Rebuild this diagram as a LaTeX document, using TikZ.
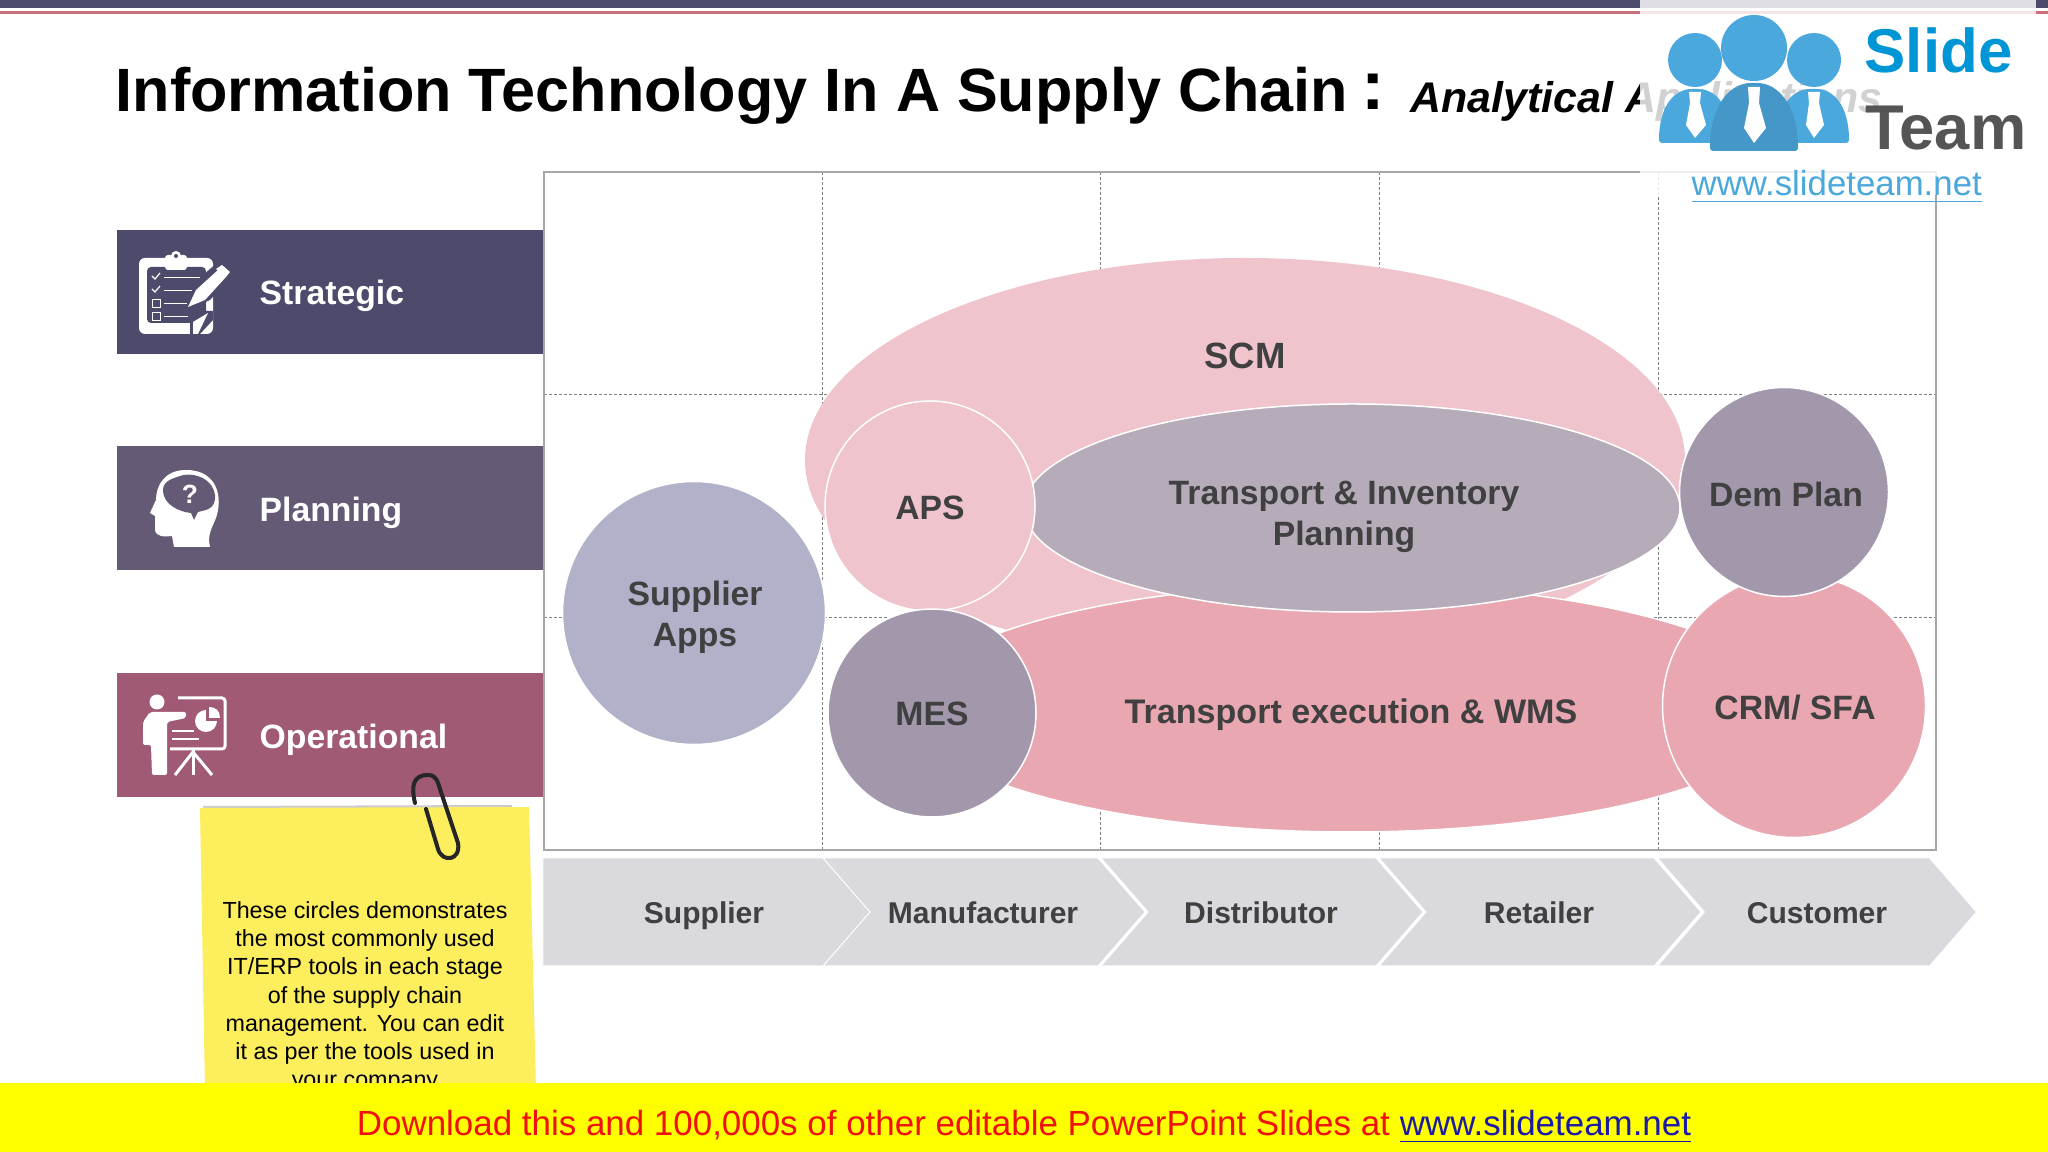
\documentclass[tikz,border=0pt]{standalone}
\usepackage{fontspec}
\setmainfont{Liberation Sans}
\usetikzlibrary{shapes.geometric,shapes.symbols}
\definecolor{navy}{HTML}{4D4B6B}
\definecolor{plum}{HTML}{655A75}
\definecolor{wine}{HTML}{A05A75}
\definecolor{redline}{HTML}{C9707A}
\definecolor{rosea}{HTML}{F0C4CD}
\definecolor{roseb}{HTML}{E9A7B2}
\definecolor{greya}{HTML}{B5ABB9}
\definecolor{greyb}{HTML}{A297AB}
\definecolor{bluea}{HTML}{B1B1C9}
\definecolor{chev}{HTML}{D9D9DE}
\definecolor{notey}{HTML}{FDEE5E}
\definecolor{ink}{HTML}{404040}
\definecolor{logob}{HTML}{4BA8DC}
\definecolor{logos}{HTML}{0096D6}
\definecolor{logot}{HTML}{555555}
\definecolor{bandy}{HTML}{FFFF00}
\definecolor{bandr}{HTML}{F01010}
\definecolor{bandl}{HTML}{1A1AA6}
\begin{document}
\begin{tikzpicture}[x=0.1mm,y=-0.1mm,
    bar/.style ={rectangle, minimum width=42.6mm, minimum height=12.4mm, inner sep=0pt},
    barlabel/.style ={anchor=west, text=white, inner sep=0pt, font=\fontsize{9.6}{11}\selectfont\bfseries},
    bubble/.style ={circle, draw=white, line width=0.15mm, inner sep=0pt, text=ink, align=center,
        font=\fontsize{9.6}{11.6}\selectfont\bfseries},
    oval/.style ={ellipse, draw=white, line width=0.15mm, inner sep=0pt},
    bubblelabel/.style ={text=ink, inner sep=0pt, align=center, font=\fontsize{9.6}{11.6}\selectfont\bfseries},
    stage/.style ={signal, signal to=east, signal from=west, signal pointer angle=98, fill=chev, draw=white,
        line width=0.1mm, inner sep=0pt, minimum height=10.8mm, text=ink,
        font=\fontsize{8.55}{11}\selectfont\bfseries},
    gridline/.style ={draw=gray, line width=0.07mm, dash pattern=on 0.3mm off 0.2mm}]
   \useasboundingbox (0,0) rectangle (2048,1152);
   \fill[white] (0,0) rectangle (2048,1152);

   \fill[navy] (0,0) rectangle (2048,8);
   \fill[redline] (0,11) rectangle (2048,14);

   \node (title) [anchor=base west, inner sep=0pt, font=\fontsize{17.4}{20}\selectfont\bfseries] at (115,112) {Information Technology In A Supply Chain};
   \node (colon) [anchor=base west, inner sep=0pt, font=\fontsize{20}{20}\selectfont\bfseries] at (1361,110) {:};
   \node (subtitle) [anchor=base west, inner sep=0pt, font=\fontsize{12.2}{14}\selectfont\bfseries\itshape] at (1410,113) {Analytical Applications};

   % grid
   \draw[gridline] (822,172) -- (822,850);
   \draw[gridline] (1100,172) -- (1100,850);
   \draw[gridline] (1379,172) -- (1379,850);
   \draw[gridline] (1658,172) -- (1658,850);
   \draw[gridline] (544,394) -- (1936,394);
   \draw[gridline] (544,617) -- (1936,617);
   \draw[draw=gray!70, line width=0.15mm] (544,172) rectangle (1936,850);

   \node[bar, fill=navy] (strategic) at (330,292) {};
   \node[bar, fill=plum] (planning) at (330,508) {};
   \node[bar, fill=wine] (operational) at (330,735) {};
   \node[barlabel] (strategiclabel) at (259,296) {Strategic};
   \node[barlabel] (planninglabel) at (259,513) {Planning};
   \node[barlabel] (operationallabel) at (259,740) {Operational};

   % clipboard
   \fill[white, rounded corners=0.6mm] (139,258) rectangle (213,334);
   \fill[navy, rounded corners=0.4mm] (147,267) rectangle (206,323);
   \fill[white, rounded corners=0.3mm] (165,255) rectangle (187,270);
   \fill[white] (176,256) circle (5);
   \fill[navy] (176,256) circle (2);
   \draw[white, line width=0.12mm] (152,276) -- (155,279) -- (160,273);
   \draw[white, line width=0.12mm] (152,289) -- (155,292) -- (160,286);
   \draw[white, line width=0.08mm] (152,299) rectangle (160,307);
   \draw[white, line width=0.08mm] (152,312) rectangle (160,320);
   \draw[white, line width=0.08mm] (164,277) -- (200,277);
   \draw[white, line width=0.08mm] (164,290) -- (192,290);
   \draw[white, line width=0.08mm] (164,303) -- (187,303);
   \draw[white, line width=0.08mm] (164,316) -- (188,316);
   \fill[navy] (186,311) -- (194,283) -- (218,262) -- (234,275) -- (210,300) -- cycle;
   \fill[white] (188,307) -- (196,290) -- (218,270) -- (226,277) -- (205,300) -- cycle;
   \fill[white] (216,269) -- (222,265) -- (230,272) -- (226,277) -- cycle;
   \fill[navy] (190,334) -- (190,320) -- (205,311) -- (213,311) -- (213,320) -- (200,334) -- cycle;
   \fill[white] (193,334) -- (193,322) -- (208,313) -- (198,334) -- cycle;

   % head
   \fill[white] (210,547) .. controls (207,535) and (212,528) .. (216,518)
      .. controls (223,498) and (218,470) .. (186,470)
      .. controls (165,470) and (156,485) .. (156,500)
      -- (150,513) -- (155,516) -- (155,530)
      .. controls (156,537) and (165,537) .. (172,536) -- (174,547) -- cycle;
   \fill[plum] (163,490) .. controls (163,480) and (175,478) .. (180,476)
      .. controls (190,472) and (212,476) .. (215,495)
      .. controls (216,510) and (205,510) .. (198,512) -- (194,520) -- (191,513)
      .. controls (180,512) and (163,505) .. (163,490) -- cycle;
   \node[text=white, inner sep=0pt, font=\fontsize{7.5}{8}\selectfont\bfseries] (question) at (190,494) {?};

   % presenter
   \draw[white, line width=0.3mm, rounded corners=0.3mm] (178,698) -- (225,698) -- (225,749) -- (170,749);
   \fill[white] (157,702) circle (7.5);
   \fill[white, rounded corners=0.2mm] (143,722) -- (150,712) -- (186,712) -- (186,718) -- (167,722) -- (167,775) -- (152,775) -- (151,745) -- (143,745) -- cycle;
   \fill[white] (206,721) circle (11);
   \fill[wine] (206,708) rectangle (219,721);
   \fill[white] (209,718) -- (220,718) .. controls (220,711) and (216,707) .. (209,707) -- cycle;
   \draw[white, line width=0.22mm] (172,731) -- (194,731);
   \draw[white, line width=0.22mm] (172,739) -- (199,739);
   \draw[white, line width=0.3mm] (193,750) -- (193,775);
   \draw[white, line width=0.3mm] (193,752) -- (175,775);
   \draw[white, line width=0.3mm] (193,752) -- (212,775);

   % note and clip
   \fill[gray!40] (203,806) -- (512,805) -- (512,808) -- (203,808) -- cycle;
   \fill[notey] (200,808) -- (529,807) -- (536,1090) -- (205,1090) -- cycle;
   \node (note) [inner sep=0pt, align=center, font=\fontsize{6.63}{8}\selectfont] at (365,997)
     {These circles demonstrates\\the most commonly used\\IT/ERP tools in each stage\\of the supply chain\\management. You can edit\\it as per the tools used in\\your company};
   \draw[color=black!85, line width=0.4mm, line cap=round] (415,803) .. controls (411,786) and (413,775) .. (428,775)
      .. controls (437,775) and (438,783) .. (440,789) -- (458,843)
      .. controls (461,861) and (442,863) .. (438,849) -- (426,809);

   % bubbles
   \node[ellipse, fill=rosea, inner sep=0pt, minimum width=88mm, minimum height=40.4mm] (scm) at (1245,460) {};
   \node[text=ink, font=\fontsize{10.4}{12}\selectfont\bfseries, inner sep=0pt] (scmlabel) at (1245,356) {SCM};
   \node[oval, fill=roseb, minimum width=88mm, minimum height=24.8mm] (exec) at (1350,708) {};
   \node[bubblelabel, font=\fontsize{9.7}{11.6}\selectfont\bfseries] (execlabel) at (1351,715) {Transport execution \& WMS};
   \node[oval, fill=greya, minimum width=65.6mm, minimum height=20.8mm] (inventory) at (1352,508) {};
   \node[bubblelabel] (inventorylabel) at (1344,517) {Transport \& Inventory\\Planning};
   \node[bubble, fill=rosea, minimum size=21mm] (aps) at (930,506) {};
   \node[bubblelabel] (apslabel) at (930,508) {APS};
   \node[bubble, fill=greyb, minimum size=20.8mm] (mes) at (932,713) {};
   \node[bubblelabel] (meslabel) at (932,714) {MES};
   \node[bubble, fill=bluea, minimum size=26.3mm] (supplier) at (694,613) {};
   \node[bubblelabel] (supplierlabel) at (695,617) {Supplier\\Apps};
   \node[bubble, fill=roseb, minimum size=26.3mm] (crm) at (1794,706) {};
   \node[bubblelabel] (crmlabel) at (1795,708) {CRM/ SFA};
   \node[bubble, fill=greyb, minimum size=20.9mm] (dem) at (1784,492) {};
   \node[bubblelabel] (demlabel) at (1786,494) {Dem Plan};

   % stages
   \node[stage, signal from=nowhere, minimum width=34.3mm] (s1) at (691,912) {};
   \node[stage, minimum width=32.2mm] (s2) at (984,912) {};
   \node[stage, minimum width=32.2mm] (s3) at (1262,912) {};
   \node[stage, minimum width=32.2mm] (s4) at (1540,912) {};
   \node[stage, minimum width=31.9mm] (s5) at (1817,912) {};
   \node[text=ink, inner sep=0pt, font=\fontsize{8.55}{11}\selectfont\bfseries] (s1label) at (704,916) {Supplier};
   \node[text=ink, inner sep=0pt, font=\fontsize{8.55}{11}\selectfont\bfseries] (s2label) at (983,913) {Manufacturer};
   \node[text=ink, inner sep=0pt, font=\fontsize{8.55}{11}\selectfont\bfseries] (s3label) at (1261,913) {Distributor};
   \node[text=ink, inner sep=0pt, font=\fontsize{8.55}{11}\selectfont\bfseries] (s4label) at (1539,913) {Retailer};
   \node[text=ink, inner sep=0pt, font=\fontsize{8.55}{11}\selectfont\bfseries] (s5label) at (1817,913) {Customer};

   % band
   \fill[bandy] (0,1083) rectangle (2048,1152);
   \node (band) [inner sep=0pt, text=bandr, font=\fontsize{9.94}{11}\selectfont] at (1024,1127) {Download this and 100,000s of other editable PowerPoint Slides at \textcolor{bandl}{\underline{www.slideteam.net}}};

   % logo
   \fill[white, opacity=0.82] (1640,0) rectangle (2036,195);
   \fill[logob] (1695,60) circle (27);
   \fill[logob] (1814,60) circle (27);
   \fill[logob] (1754,48) circle (33);
   \fill[logob, rounded corners=0.3mm] (1659,143) .. controls (1659,105) and (1675,89) .. (1695,89) .. controls (1715,89) and (1731,105) .. (1731,143) -- cycle;
   \fill[logob, rounded corners=0.3mm] (1777,143) .. controls (1777,105) and (1793,89) .. (1813,89) .. controls (1833,89) and (1849,105) .. (1849,143) -- cycle;
   \fill[logob!90!black, rounded corners=0.3mm] (1710,151) .. controls (1710,105) and (1730,83) .. (1754,83) .. controls (1778,83) and (1798,105) .. (1798,151) -- cycle;
   \fill[white] (1689,92) -- (1701,92) -- (1700,103) -- (1706,125) -- (1695,138) -- (1686,125) -- (1690,103) -- cycle;
   \fill[white] (1808,92) -- (1820,92) -- (1819,103) -- (1824,125) -- (1814,138) -- (1806,125) -- (1809,103) -- cycle;
   \fill[white] (1748,87) -- (1760,87) -- (1759,103) -- (1766,128) -- (1754,143) -- (1744,128) -- (1749,103) -- cycle;
   \node (slide) [anchor=base west, inner sep=0pt, text=logos, font=\fontsize{17.6}{20}\selectfont\bfseries] at (1864,73) {Slide};
   \node (team) [anchor=base west, inner sep=0pt, text=logot, font=\fontsize{18}{20}\selectfont\bfseries] at (1865,150) {Team};
   \node (url) [anchor=base west, inner sep=0pt, text=logob, font=\fontsize{9.9}{11}\selectfont] at (1691,196) {\underline{www.slideteam.net}};
 \end{tikzpicture}
\end{document}
